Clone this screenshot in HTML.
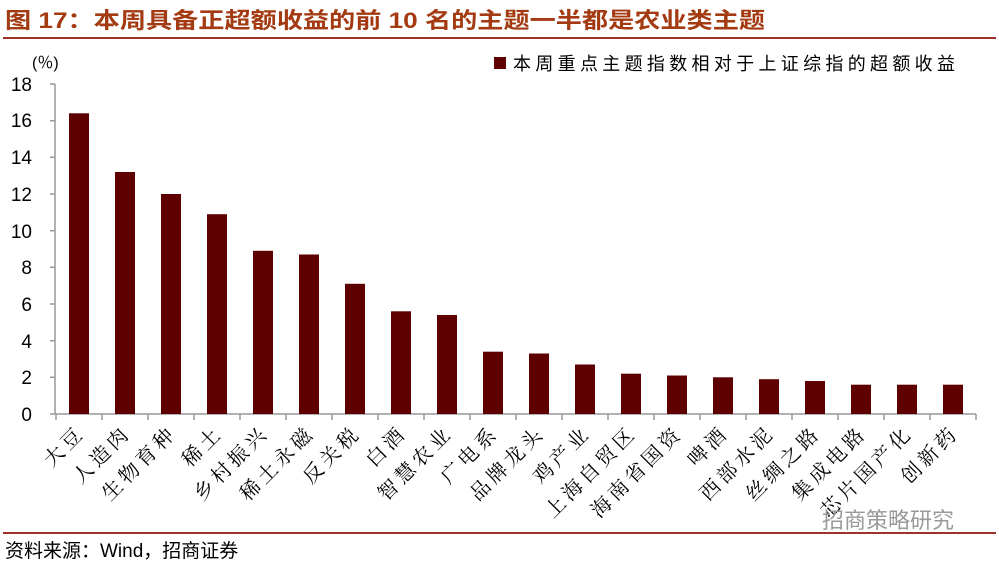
<!DOCTYPE html>
<html><head><meta charset="utf-8"><style>
body{margin:0;background:#fff}
svg{display:block}
text{font-family:"Liberation Sans","Noto Sans CJK SC",sans-serif}
.lb text{font-family:"Liberation Serif","Noto Serif CJK SC",serif}
</style></head><body>
<svg width="999" height="563" viewBox="0 0 999 563">
<text x="5" y="28" font-size="22" font-weight="bold" fill="#a33a12" textLength="760" lengthAdjust="spacingAndGlyphs">图 17：本周具备正超额收益的前 10 名的主题一半都是农业类主题</text>
<rect x="3" y="37" width="993" height="2" fill="#a0302a"/>
<text x="32" y="68" font-size="16" fill="#000">(％)</text>
<rect x="494" y="57" width="12" height="12" fill="#5e0000"/>
<text x="513" y="70" font-size="18" fill="#000" textLength="442" lengthAdjust="spacing">本周重点主题指数相对于上证综指的超额收益</text>
<g font-size="19" fill="#000" text-anchor="end">
<text x="32" y="91">18</text><text x="32" y="127">16</text><text x="32" y="164">14</text>
<text x="32" y="201">12</text><text x="32" y="238">10</text><text x="32" y="274">8</text>
<text x="32" y="311">6</text><text x="32" y="348">4</text><text x="32" y="384">2</text><text x="32" y="421">0</text>
</g>
<g stroke="#999" stroke-width="1.5" fill="none">
<line x1="55" y1="84" x2="55" y2="414"/>
<line x1="55" y1="414" x2="976" y2="414"/>
<path d="M50 84h5M50 120.7h5M50 157.3h5M50 194h5M50 230.7h5M50 267.3h5M50 304h5M50 340.7h5M50 377.3h5M50 414h5"/>
<path d="M56 414v6M102 414v6M148 414v6M194 414v6M240 414v6M286 414v6M332 414v6M378 414v6M424 414v6M470 414v6M516 414v6M562 414v6M608 414v6M654 414v6M700 414v6M746 414v6M792 414v6M838 414v6M884 414v6M930 414v6M976 414v6"/>
</g>
<g fill="#5e0000">
<rect x="69" y="113.3" width="20" height="300.7"/>
<rect x="115" y="172" width="20" height="242"/>
<rect x="161" y="194" width="20" height="220"/>
<rect x="207" y="214.2" width="20" height="199.8"/>
<rect x="253" y="250.8" width="20" height="163.2"/>
<rect x="299" y="254.5" width="20" height="159.5"/>
<rect x="345" y="283.8" width="20" height="130.2"/>
<rect x="391" y="311.3" width="20" height="102.7"/>
<rect x="437" y="315" width="20" height="99"/>
<rect x="483" y="351.7" width="20" height="62.3"/>
<rect x="529" y="353.5" width="20" height="60.5"/>
<rect x="575" y="364.5" width="20" height="49.5"/>
<rect x="621" y="373.7" width="20" height="40.3"/>
<rect x="667" y="375.5" width="20" height="38.5"/>
<rect x="713" y="377.3" width="20" height="36.7"/>
<rect x="759" y="379.2" width="20" height="34.8"/>
<rect x="805" y="381" width="20" height="33"/>
<rect x="851" y="384.7" width="20" height="29.3"/>
<rect x="897" y="384.7" width="20" height="29.3"/>
<rect x="943" y="384.7" width="20" height="29.3"/>
</g>
<g class="lb" font-size="20" letter-spacing="4" fill="#000" text-anchor="end">
<text transform="translate(86,434) rotate(-45)">大豆</text>
<text transform="translate(132,434) rotate(-45)">人造肉</text>
<text transform="translate(178,434) rotate(-45)">生物育种</text>
<text transform="translate(224,434) rotate(-45)">稀土</text>
<text transform="translate(270,434) rotate(-45)">乡村振兴</text>
<text transform="translate(316,434) rotate(-45)">稀土永磁</text>
<text transform="translate(362,434) rotate(-45)">反关税</text>
<text transform="translate(408,434) rotate(-45)">白酒</text>
<text transform="translate(454,434) rotate(-45)">智慧农业</text>
<text transform="translate(500,434) rotate(-45)">广电系</text>
<text transform="translate(546,434) rotate(-45)">品牌龙头</text>
<text transform="translate(592,434) rotate(-45)">鸡产业</text>
<text transform="translate(638,434) rotate(-45)">上海自贸区</text>
<text transform="translate(684,434) rotate(-45)">海南省国资</text>
<text transform="translate(730,434) rotate(-45)">啤酒</text>
<text transform="translate(776,434) rotate(-45)">西部水泥</text>
<text transform="translate(822,434) rotate(-45)">丝绸之路</text>
<text transform="translate(868,434) rotate(-45)">集成电路</text>
<text transform="translate(914,434) rotate(-45)">芯片国产化</text>
<text transform="translate(960,434) rotate(-45)">创新药</text>
</g>
<rect x="3" y="532" width="993" height="2" fill="#a0302a"/>
<text x="822" y="528" font-size="22" fill="#999">招商策略研究</text>
<text x="5" y="557" font-size="19" fill="#000">资料来源：Wind，招商证券</text>
</svg>
</body></html>
